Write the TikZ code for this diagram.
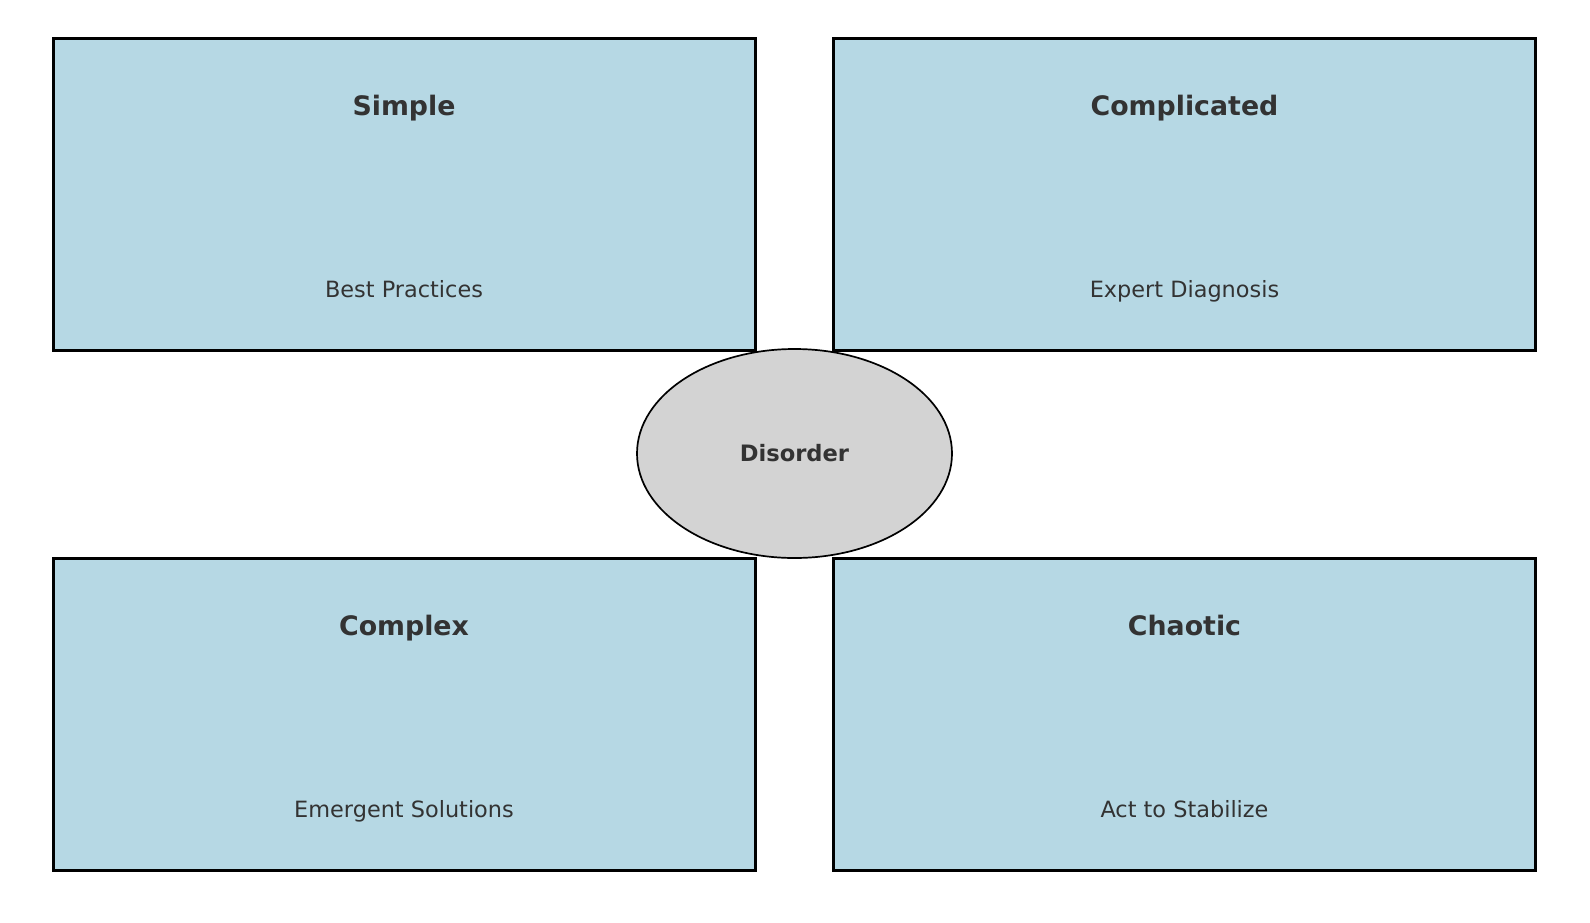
\documentclass[tikz,border=0pt]{standalone}
\usepackage{fontspec}
\setmainfont{DejaVu Sans}
\usetikzlibrary{shapes.geometric}
\definecolor{quadblue}{HTML}{B6D8E4}
\definecolor{inkgray}{HTML}{333333}
\definecolor{centergray}{HTML}{D3D3D3}

\begin{document}
\begin{tikzpicture}[x=0.5pt,y=-0.5pt,
  quad/.style={draw=black,line width=1.5pt,fill=quadblue,minimum width=351pt,minimum height=156pt,inner sep=0pt},
  quadtitle/.style={anchor=base,inner sep=0pt,text=inkgray,font=\bfseries\fontsize{13.4}{16}\selectfont},
  quadnote/.style={anchor=base,inner sep=0pt,text=inkgray,font=\fontsize{11.2}{13}\selectfont}]
  \useasboundingbox (0,0) rectangle (1590,922);

  % four domains
  \node[quad] (simple) at (404,194) {};
  \node[quad] (complicated) at (1184.5,194) {};
  \node[quad] (complex) at (404,714) {};
  \node[quad] (chaotic) at (1184.5,714) {};

  \node[quadtitle] (simple-t) at (404,115) {Simple};
  \node[quadnote] (simple-n) at (404,297.5) {Best Practices};
  \node[quadtitle] (complicated-t) at (1184.5,115) {Complicated};
  \node[quadnote] (complicated-n) at (1184.5,297.5) {Expert Diagnosis};
  \node[quadtitle] (complex-t) at (404,635) {Complex};
  \node[quadnote] (complex-n) at (404,817.5) {Emergent Solutions};
  \node[quadtitle] (chaotic-t) at (1184.5,635) {Chaotic};
  \node[quadnote] (chaotic-n) at (1184.5,817.5) {Act to Stabilize};

  % centre
  \node[ellipse,draw=black,line width=0.85pt,fill=centergray,minimum width=157.5pt,minimum height=104.5pt,inner sep=0pt,
    text=inkgray,font=\bfseries\fontsize{11.3}{13}\selectfont] (disorder) at (794.5,453.5) {Disorder};
\end{tikzpicture}
\end{document}
